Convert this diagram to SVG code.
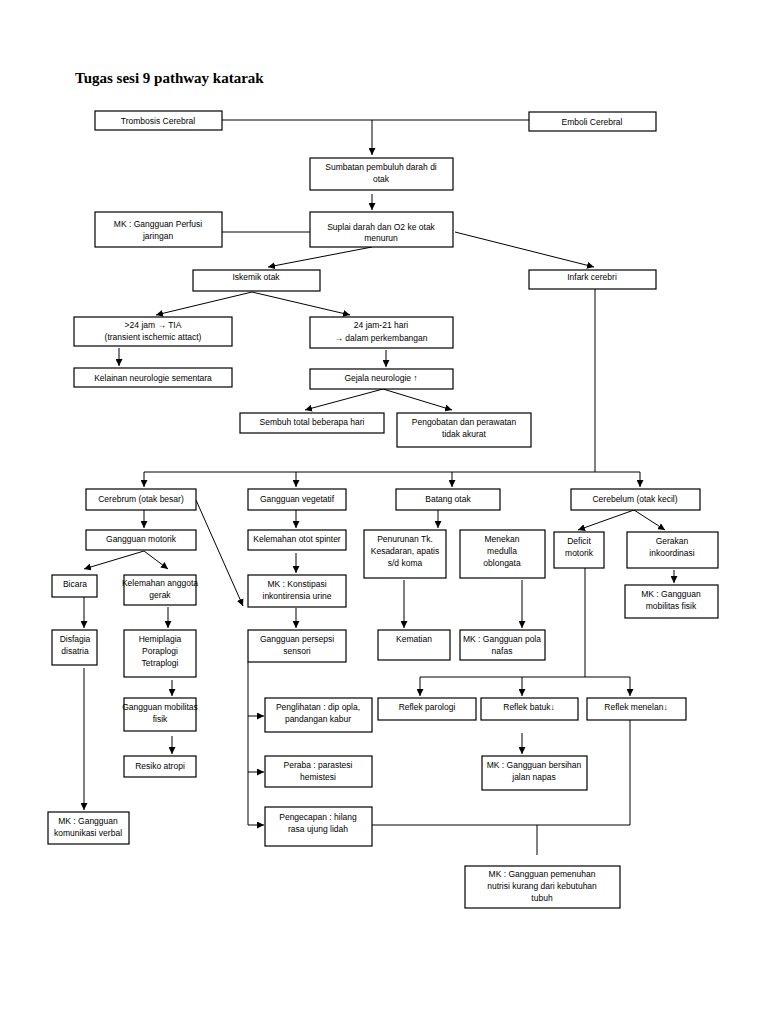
<svg xmlns="http://www.w3.org/2000/svg" width="768" height="1024" viewBox="0 0 768 1024">
<style>
rect{fill:#fff;stroke:#000;stroke-width:1.2}
text{font-family:"Liberation Sans",Arial,sans-serif;font-size:8.5px;text-anchor:middle;fill:#000}
.t{font-family:"Liberation Serif","Times New Roman",serif;font-size:15px;font-weight:bold;text-anchor:start}
#c path{fill:none;stroke:#000;stroke-width:1}
</style>
<defs><marker id="a" viewBox="0 0 10 10" refX="10" refY="5" markerWidth="7" markerHeight="7" orient="auto"><path d="M0,0L10,5L0,10z" fill="#000"/></marker></defs>
<rect width="768" height="1024" style="stroke:none"/>
<text class="t" x="75" y="83">Tugas sesi 9 pathway katarak</text>
<g id="c">
<path d="M222,120H529"/>
<path d="M372,120V155" marker-end="url(#a)"/>
<path d="M372,194V210" marker-end="url(#a)"/>
<path d="M222,232H310"/>
<path d="M372,247L268,267" marker-end="url(#a)"/>
<path d="M455,232L594,267" marker-end="url(#a)"/>
<path d="M252,292L156,315" marker-end="url(#a)"/>
<path d="M252,292L350,315" marker-end="url(#a)"/>
<path d="M119,348V366" marker-end="url(#a)"/>
<path d="M386,350V367" marker-end="url(#a)"/>
<path d="M383,389L305,410" marker-end="url(#a)"/>
<path d="M383,389L452,410" marker-end="url(#a)"/>
<path d="M595,289V472"/>
<path d="M144,472H640"/>
<path d="M144,472V487" marker-end="url(#a)"/>
<path d="M296,472V487" marker-end="url(#a)"/>
<path d="M452,472V487" marker-end="url(#a)"/>
<path d="M640,472V487" marker-end="url(#a)"/>
<path d="M144,510V528" marker-end="url(#a)"/>
<path d="M144,551L84,569" marker-end="url(#a)"/>
<path d="M144,551L168,569" marker-end="url(#a)"/>
<path d="M84,597V628" marker-end="url(#a)"/>
<path d="M168,607V628" marker-end="url(#a)"/>
<path d="M172,680V696" marker-end="url(#a)"/>
<path d="M172,736V754" marker-end="url(#a)"/>
<path d="M84,668V810" marker-end="url(#a)"/>
<path d="M196,500L243,606" marker-end="url(#a)"/>
<path d="M296,510V528" marker-end="url(#a)"/>
<path d="M296,553V573" marker-end="url(#a)"/>
<path d="M296,608V628" marker-end="url(#a)"/>
<path d="M248,662V825"/>
<path d="M248,716H264" marker-end="url(#a)"/>
<path d="M248,772H264" marker-end="url(#a)"/>
<path d="M248,825H264" marker-end="url(#a)"/>
<path d="M438,510V528" marker-end="url(#a)"/>
<path d="M404,580V628" marker-end="url(#a)"/>
<path d="M522,580V628" marker-end="url(#a)"/>
<path d="M634,510L578,530" marker-end="url(#a)"/>
<path d="M634,510L665,530" marker-end="url(#a)"/>
<path d="M674,570V583" marker-end="url(#a)"/>
<path d="M585,568V677"/>
<path d="M420,677H630"/>
<path d="M420,677V696" marker-end="url(#a)"/>
<path d="M522,677V696" marker-end="url(#a)"/>
<path d="M630,677V696" marker-end="url(#a)"/>
<path d="M522,733V754" marker-end="url(#a)"/>
<path d="M630,720V825H372"/>
<path d="M537,825V855"/>
</g>
<g id="n1"><rect x="95" y="111" width="127" height="19"/><text x="158" y="124">Trombosis Cerebral</text></g>
<g id="n2"><rect x="529" y="112" width="127" height="19"/><text x="592" y="125">Emboli Cerebral</text></g>
<g id="n3"><rect x="310" y="158" width="143" height="32"/><text x="381" y="170">Sumbatan pembuluh darah di</text><text x="381" y="182">otak</text></g>
<g id="n4"><rect x="310" y="212" width="143" height="35"/><text x="381" y="230">Suplai darah dan O2 ke otak</text><text x="381" y="241">menurun</text></g>
<g id="n5"><rect x="95" y="212" width="127" height="35"/><text x="158" y="227">MK : Gangguan Perfusi</text><text x="158" y="239">jaringan</text></g>
<g id="n6"><rect x="193" y="270" width="127" height="21"/><text x="256" y="280">Iskemik otak</text></g>
<g id="n7"><rect x="529" y="270" width="127" height="19"/><text x="592" y="280">Infark cerebri</text></g>
<g id="n8"><rect x="74" y="317" width="158" height="29"/><text x="153" y="328">&gt;24 jam → TIA</text><text x="153" y="340">(transient ischemic attact)</text></g>
<g id="n9"><rect x="310" y="317" width="143" height="31"/><text x="381" y="328">24 jam-21 hari</text><text x="381" y="341">→ dalam perkembangan</text></g>
<g id="n10"><rect x="74" y="368" width="158" height="19"/><text x="153" y="381">Kelainan neurologie sementara</text></g>
<g id="n11"><rect x="310" y="369" width="143" height="20"/><text x="381" y="381">Gejala neurologie ↑</text></g>
<g id="n12"><rect x="240" y="413" width="144" height="20"/><text x="312" y="425">Sembuh total beberapa hari</text></g>
<g id="n13"><rect x="397" y="413" width="134" height="34"/><text x="464" y="425">Pengobatan dan perawatan</text><text x="464" y="437">tidak akurat</text></g>
<g id="n14"><rect x="86" y="489" width="110" height="21"/><text x="141" y="502">Cerebrum (otak besar)</text></g>
<g id="n15"><rect x="248" y="489" width="98" height="21"/><text x="297" y="502">Gangguan vegetatif</text></g>
<g id="n16"><rect x="396" y="489" width="104" height="21"/><text x="448" y="502">Batang otak</text></g>
<g id="n17"><rect x="571" y="489" width="129" height="21"/><text x="635" y="502">Cerebelum (otak kecil)</text></g>
<g id="n18"><rect x="86" y="530" width="110" height="20"/><text x="141" y="542">Gangguan motorik</text></g>
<g id="n19"><rect x="52" y="575" width="45" height="22"/><text x="75" y="587">Bicara</text></g>
<g id="n20"><rect x="124" y="575" width="72" height="30"/><text x="160" y="586">Kelemahan anggota</text><text x="160" y="598">gerak</text></g>
<g id="n21"><rect x="52" y="630" width="45" height="35"/><text x="75" y="642">Disfagia</text><text x="75" y="654">disatria</text></g>
<g id="n22"><rect x="124" y="630" width="72" height="47"/><text x="160" y="642">Hemiplagia</text><text x="160" y="654">Poraplogi</text><text x="160" y="666">Tetraplogi</text></g>
<g id="n23"><rect x="124" y="698" width="72" height="33"/><text x="160" y="710">Gangguan mobilitas</text><text x="160" y="722">fisik</text></g>
<g id="n24"><rect x="124" y="756" width="72" height="21"/><text x="160" y="769">Resiko atropi</text></g>
<g id="n25"><rect x="48" y="812" width="81" height="32"/><text x="88" y="824">MK : Gangguan</text><text x="88" y="836">komunikasi verbal</text></g>
<g id="n26"><rect x="248" y="530" width="98" height="20"/><text x="297" y="542">Kelemahan otot spinter</text></g>
<g id="n27"><rect x="248" y="575" width="98" height="32"/><text x="297" y="587">MK : Konstipasi</text><text x="297" y="599">inkontirensia urine</text></g>
<g id="n28"><rect x="248" y="630" width="98" height="32"/><text x="297" y="642">Gangguan persepsi</text><text x="297" y="654">sensori</text></g>
<g id="n29"><rect x="265" y="698" width="107" height="34"/><text x="318" y="710">Penglihatan : dip opla,</text><text x="318" y="722">pandangan kabur</text></g>
<g id="n30"><rect x="265" y="756" width="107" height="31"/><text x="318" y="768">Peraba : parastesi</text><text x="318" y="780">hemistesi</text></g>
<g id="n31"><rect x="265" y="807" width="107" height="39"/><text x="318" y="820">Pengecapan : hilang</text><text x="318" y="832">rasa ujung lidah</text></g>
<g id="n32"><rect x="364" y="530" width="82" height="48"/><text x="405" y="542">Penurunan Tk.</text><text x="405" y="554">Kesadaran, apatis</text><text x="405" y="566">s/d koma</text></g>
<g id="n33"><rect x="460" y="530" width="85" height="48"/><text x="502" y="542">Menekan</text><text x="502" y="554">medulla</text><text x="502" y="566">oblongata</text></g>
<g id="n34"><rect x="378" y="630" width="72" height="30"/><text x="414" y="642">Kematian</text></g>
<g id="n35"><rect x="460" y="630" width="85" height="30"/><text x="502" y="642">MK : Gangguan pola</text><text x="502" y="654">nafas</text></g>
<g id="n36"><rect x="554" y="532" width="50" height="36"/><text x="579" y="544">Deficit</text><text x="579" y="556">motorik</text></g>
<g id="n37"><rect x="627" y="532" width="91" height="36"/><text x="672" y="544">Gerakan</text><text x="672" y="556">inkoordinasi</text></g>
<g id="n38"><rect x="625" y="585" width="93" height="33"/><text x="671" y="597">MK : Gangguan</text><text x="671" y="609">mobilitas fisik</text></g>
<g id="n39"><rect x="378" y="698" width="98" height="22"/><text x="427" y="710">Reflek parologi</text></g>
<g id="n40"><rect x="481" y="698" width="97" height="22"/><text x="529" y="710">Reflek batuk↓</text></g>
<g id="n41"><rect x="587" y="698" width="99" height="22"/><text x="636" y="710">Reflek menelan↓</text></g>
<g id="n42"><rect x="482" y="756" width="105" height="34"/><text x="534" y="768">MK : Gangguan bersihan</text><text x="534" y="780">jalan napas</text></g>
<g id="n43"><rect x="465" y="866" width="155" height="42"/><text x="542" y="877">MK : Gangguan pemenuhan</text><text x="542" y="889">nutrisi kurang dari kebutuhan</text><text x="542" y="901">tubuh</text></g>
</svg>
